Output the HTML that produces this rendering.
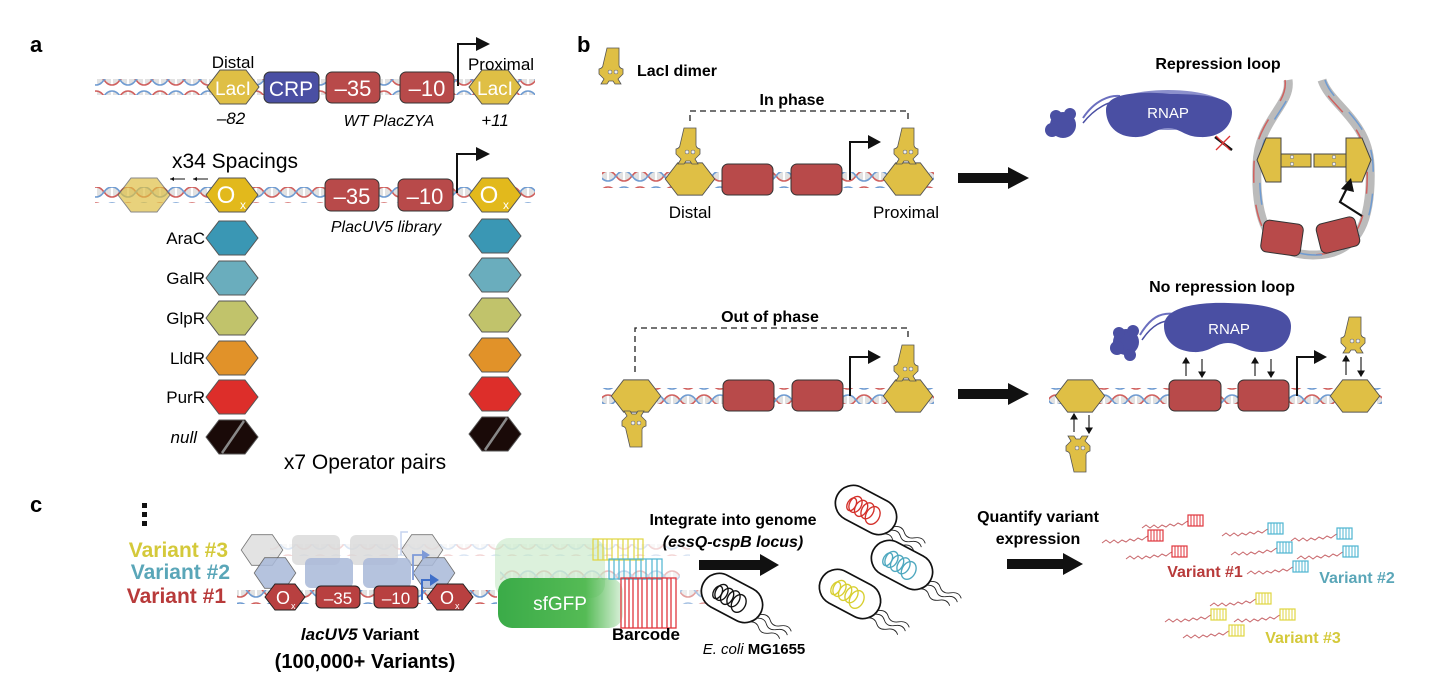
<!DOCTYPE html>
<html><head><meta charset="utf-8"><style>
html,body{margin:0;padding:0;background:#fff}
svg{display:block}
text{font-family:"Liberation Sans",sans-serif}
</style></head><body>
<svg width="1440" height="687" viewBox="0 0 1440 687" xmlns="http://www.w3.org/2000/svg">
<defs>
<pattern id="dna" width="32" height="16" y="-8" patternUnits="userSpaceOnUse">
<g stroke="#aaa" stroke-width="0.7"><line x1="2" y1="4" x2="2" y2="12"/><line x1="4" y1="4" x2="4" y2="12"/><line x1="6" y1="5" x2="6" y2="11"/><line x1="10" y1="5" x2="10" y2="11"/><line x1="12" y1="4" x2="12" y2="12"/><line x1="14" y1="4" x2="14" y2="12"/><line x1="18" y1="4" x2="18" y2="12"/><line x1="20" y1="4" x2="20" y2="12"/><line x1="22" y1="5" x2="22" y2="11"/><line x1="26" y1="5" x2="26" y2="11"/><line x1="28" y1="4" x2="28" y2="12"/><line x1="30" y1="4" x2="30" y2="12"/></g>
<path d="M0,3 C8,3 8,13 16,13 C24,13 24,3 32,3" fill="none" stroke="#d0605e" stroke-width="1.6"/>
<path d="M0,13 C8,13 8,3 16,3 C24,3 24,13 32,13" fill="none" stroke="#6f9bd1" stroke-width="1.6"/>
</pattern>
<polygon id="hx" points="-26,0 -13,-17 13,-17 26,0 13,17 -13,17" stroke="#555" stroke-width="1"/>
<g id="dm"><path d="M-6,-35 h12 v17 q0,3 4,4 v5 l-5,5 l3,5 h-6 l-2,-3 h-4 l-2,3 h-6 l3,-5 l-5,-5 v-5 q4,-1 4,-4 z" fill="#dfbf45" stroke="#555" stroke-width="0.8"/><circle cx="-3" cy="-11" r="2" fill="#eee" stroke="#555" stroke-width=".5"/><circle cx="3" cy="-11" r="2" fill="#eee" stroke="#555" stroke-width=".5"/></g>
<g id="tr"><polyline points="-46,9 -42,6 -38,9 -34,6 -30,9 -26,6 -22,8 -18,5 -14,7 -10,4 -6,6 -2,3 0,2" fill="none" stroke="#c8666a" stroke-width="1"/><rect x="0" y="-4" width="15" height="11" fill="none" stroke="currentColor" stroke-width="1.2"/><path d="M3,-4v11M6,-4v11M9,-4v11M12,-4v11" stroke="currentColor" stroke-width="1"/></g>
<g id="cell"><rect x="-38" y="-21" width="76" height="42" rx="21" fill="#fff" stroke="#111" stroke-width="2"/>
<g fill="none" stroke="currentColor" stroke-width="1.6"><ellipse cx="-14" cy="0" rx="7" ry="10"/><ellipse cx="-6" cy="1" rx="7" ry="10"/><ellipse cx="2" cy="0" rx="7" ry="10"/><ellipse cx="10" cy="2" rx="8" ry="11"/><ellipse cx="-18" cy="2" rx="5" ry="8"/></g>
<g fill="none" stroke="#222" stroke-width="1"><path d="M36,8 q8,-6 14,0 t14,0 t14,0"/><path d="M30,16 q8,-6 14,0 t14,0 t14,0"/><path d="M38,2 q8,-6 14,0 t14,0 t14,0"/></g></g>
<linearGradient id="gfp" x1="0" x2="1"><stop offset="0" stop-color="#3aab48"/><stop offset=".7" stop-color="#55bb55"/><stop offset="1" stop-color="#55bb55" stop-opacity=".2"/></linearGradient>
</defs>

<!-- ===== PANEL A ===== -->
<text x="30" y="52" font-size="22" font-weight="bold">a</text>
<rect x="95" y="79" width="440" height="16" fill="url(#dna)"/>
<use href="#hx" x="233" y="87" fill="#dfbf45"/>
<text x="233" y="95" font-size="19" fill="#fff" text-anchor="middle">LacI</text>
<rect x="264" y="72" width="55" height="31" rx="6" fill="#4a4fa3" stroke="#333"/>
<text x="291" y="96" font-size="21" fill="#fff" text-anchor="middle">CRP</text>
<rect x="326" y="72" width="54" height="31" rx="6" fill="#b84a4a" stroke="#333"/>
<text x="353" y="96" font-size="22" fill="#fff" text-anchor="middle">–35</text>
<rect x="400" y="72" width="54" height="31" rx="6" fill="#b84a4a" stroke="#333"/>
<text x="427" y="96" font-size="22" fill="#fff" text-anchor="middle">–10</text>
<use href="#hx" x="495" y="87" fill="#dfbf45"/>
<text x="495" y="95" font-size="19" fill="#fff" text-anchor="middle">LacI</text>
<path d="M458,86 V44 H476" fill="none" stroke="#111" stroke-width="2"/><polygon points="476,37 490,44 476,51" fill="#111"/>
<text x="233" y="68" font-size="17" text-anchor="middle">Distal</text>
<text x="501" y="70" font-size="17" text-anchor="middle">Proximal</text>
<text x="231" y="124" font-size="17" font-style="italic" text-anchor="middle">–82</text>
<text x="389" y="126" font-size="16" font-style="italic" text-anchor="middle">WT PlacZYA</text>
<text x="495" y="126" font-size="17" font-style="italic" text-anchor="middle">+11</text>

<text x="235" y="168" font-size="21" text-anchor="middle">x34 Spacings</text>
<rect x="95" y="187" width="440" height="16" fill="url(#dna)"/>
<use href="#hx" x="144" y="195" fill="#dfbf45" opacity=".7"/>
<path d="M185,179 H170 M208,179 H193" stroke="#111" stroke-width="1"/><path d="M170,179 l4,-2 v4z M193,179 l4,-2 v4z" fill="#111"/>
<use href="#hx" x="232" y="195" fill="#e2b91c"/>
<text x="226" y="203" font-size="24" fill="#fff" text-anchor="middle">O</text><text x="240" y="209" font-size="12" fill="#fff">x</text>
<rect x="325" y="179" width="54" height="32" rx="6" fill="#b84a4a" stroke="#333"/>
<text x="352" y="204" font-size="22" fill="#fff" text-anchor="middle">–35</text>
<rect x="398" y="179" width="55" height="32" rx="6" fill="#b84a4a" stroke="#333"/>
<text x="425" y="204" font-size="22" fill="#fff" text-anchor="middle">–10</text>
<use href="#hx" x="495" y="195" fill="#e2b91c"/>
<text x="489" y="203" font-size="24" fill="#fff" text-anchor="middle">O</text><text x="503" y="209" font-size="12" fill="#fff">x</text>
<path d="M457,193 V154 H476" fill="none" stroke="#111" stroke-width="2"/><polygon points="476,147 490,154 476,161" fill="#111"/>
<text x="386" y="232" font-size="16" font-style="italic" text-anchor="middle">PlacUV5 library</text>

<g font-size="17" text-anchor="end">
<use href="#hx" x="232" y="238" fill="#3a97b4"/><use href="#hx" x="495" y="236" fill="#3a97b4"/><text x="205" y="244">AraC</text>
<use href="#hx" x="232" y="278" fill="#6aadbd"/><use href="#hx" x="495" y="275" fill="#6aadbd"/><text x="205" y="284">GalR</text>
<use href="#hx" x="232" y="318" fill="#c1c36b"/><use href="#hx" x="495" y="315" fill="#c1c36b"/><text x="205" y="324">GlpR</text>
<use href="#hx" x="232" y="358" fill="#e19229"/><use href="#hx" x="495" y="355" fill="#e19229"/><text x="205" y="364">LldR</text>
<use href="#hx" x="232" y="397" fill="#dd2e2a"/><use href="#hx" x="495" y="394" fill="#dd2e2a"/><text x="205" y="403">PurR</text>
<use href="#hx" x="232" y="437" fill="#1a0a08"/><use href="#hx" x="495" y="434" fill="#1a0a08"/><text x="197" y="443" font-style="italic">null</text>
</g>
<path d="M222,453 L244,421 M485,450 L507,418" stroke="#888" stroke-width="2.5"/>
<text x="365" y="469" font-size="21" text-anchor="middle">x7 Operator pairs</text>

<!-- ===== PANEL B ===== -->
<text x="577" y="52" font-size="22" font-weight="bold">b</text>
<use href="#dm" transform="translate(613,83)"/>
<text x="637" y="76" font-size="16" font-weight="bold">LacI dimer</text>
<text x="792" y="105" font-size="16" font-weight="bold" text-anchor="middle">In phase</text>
<path d="M690,121 V111 H908 V121" fill="none" stroke="#222" stroke-width="1.3" stroke-dasharray="6,4"/>
<rect x="602" y="172" width="332" height="16" fill="url(#dna)"/>
<use href="#hx" transform="translate(690,179) scale(.95,.95)" fill="#dfbf45"/>
<use href="#dm" x="690" y="163"/>
<rect x="722" y="164" width="51" height="31" rx="6" fill="#b84a4a" stroke="#333"/>
<rect x="791" y="164" width="51" height="31" rx="6" fill="#b84a4a" stroke="#333"/>
<path d="M850,180 V142 H868" fill="none" stroke="#111" stroke-width="2"/><polygon points="868,135 881,142 868,149" fill="#111"/>
<use href="#hx" transform="translate(908,179) scale(.95,.95)" fill="#dfbf45"/>
<use href="#dm" x="908" y="163"/>
<text x="690" y="218" font-size="17" text-anchor="middle">Distal</text>
<text x="906" y="218" font-size="17" text-anchor="middle">Proximal</text>
<path d="M958,173 H1008 V167 L1029,178 L1008,189 V183 H958 Z" fill="#111"/>

<text x="1218" y="69" font-size="16" font-weight="bold" text-anchor="middle">Repression loop</text>
<path d="M1083,118 C1095,100 1110,95 1120,96" fill="none" stroke="#6b6fbf" stroke-width="2"/>
<path d="M1083,123 C1095,108 1110,100 1120,102" fill="none" stroke="#4a4fa3" stroke-width="1.5"/>
<ellipse cx="1168" cy="110" rx="62" ry="20" fill="#8c90cc"/>
<path d="M1106,110 C1106,90 1150,92 1170,94 C1210,94 1232,98 1232,112 C1232,128 1218,138 1200,137 C1185,137 1180,128 1168,128 C1155,128 1150,138 1133,137 C1115,136 1106,124 1106,110 Z" fill="#4a4fa3"/>
<text x="1168" y="118" font-size="15" fill="#fff" text-anchor="middle">RNAP</text>
<circle cx="1063" cy="125" r="13" fill="#4a4fa3"/><circle cx="1056" cy="116" r="6" fill="#4a4fa3"/><circle cx="1070" cy="114" r="6" fill="#4a4fa3"/><circle cx="1052" cy="130" r="7" fill="#4a4fa3"/>
<path d="M1215,137 L1232,150" stroke="#111" stroke-width="2.5"/><path d="M1216,150 L1230,136 M1216,136 L1230,150" stroke="#d33" stroke-width="1.3"/>
<path d="M1288,80 C1292,105 1258,120 1257,165 C1255,215 1265,255 1313,255 C1362,255 1372,215 1370,165 C1368,120 1330,105 1322,80" fill="none" stroke="#bbb" stroke-width="9"/>
<path d="M1288,80 C1292,105 1258,120 1257,165 C1255,215 1265,255 1313,255 C1362,255 1372,215 1370,165 C1368,120 1330,105 1322,80" fill="none" stroke="#d0605e" stroke-width="1.5" stroke-dasharray="22,22" transform="translate(-3,0)"/>
<path d="M1288,80 C1292,105 1258,120 1257,165 C1255,215 1265,255 1313,255 C1362,255 1372,215 1370,165 C1368,120 1330,105 1322,80" fill="none" stroke="#6f9bd1" stroke-width="1.5" stroke-dasharray="22,22" stroke-dashoffset="22" transform="translate(3,0)"/>
<polygon points="1257,160 1266,138 1281,138 1281,182 1266,182" fill="#dfbf45" stroke="#444"/>
<polygon points="1371,160 1362,138 1346,138 1346,182 1362,182" fill="#dfbf45" stroke="#444"/>
<rect x="1281" y="154" width="30" height="13" fill="#dfbf45" stroke="#444"/><rect x="1314" y="154" width="32" height="13" fill="#dfbf45" stroke="#444"/>
<circle cx="1292" cy="157" r="1.8" fill="#eee" stroke="#555" stroke-width=".5"/><circle cx="1292" cy="164" r="1.8" fill="#eee" stroke="#555" stroke-width=".5"/><circle cx="1334" cy="157" r="1.8" fill="#eee" stroke="#555" stroke-width=".5"/><circle cx="1334" cy="164" r="1.8" fill="#eee" stroke="#555" stroke-width=".5"/>
<rect x="1262" y="222" width="40" height="32" rx="6" fill="#b84a4a" stroke="#333" transform="rotate(8 1282 238)"/>
<rect x="1318" y="220" width="40" height="30" rx="6" fill="#b84a4a" stroke="#333" transform="rotate(-14 1338 235)"/>
<path d="M1362,216 L1340,202 L1347,188" fill="none" stroke="#111" stroke-width="2.2"/><polygon points="1341,189 1351,178 1354,192" fill="#111"/>

<text x="770" y="322" font-size="16" font-weight="bold" text-anchor="middle">Out of phase</text>
<path d="M635,372 V328 H908 V338" fill="none" stroke="#222" stroke-width="1.3" stroke-dasharray="6,4"/>
<rect x="602" y="388" width="332" height="16" fill="url(#dna)"/>
<use href="#hx" transform="translate(636,396) scale(.95,.95)" fill="#dfbf45"/>
<use href="#dm" transform="translate(636,412) scale(1,-1)"/>
<rect x="723" y="380" width="51" height="31" rx="6" fill="#b84a4a" stroke="#333"/>
<rect x="792" y="380" width="51" height="31" rx="6" fill="#b84a4a" stroke="#333"/>
<path d="M850,396 V357 H868" fill="none" stroke="#111" stroke-width="2"/><polygon points="868,350 881,357 868,364" fill="#111"/>
<use href="#hx" transform="translate(908,396) scale(.95,.95)" fill="#dfbf45"/>
<use href="#dm" x="908" y="380"/>
<path d="M958,389 H1008 V383 L1029,394 L1008,405 V399 H958 Z" fill="#111"/>

<text x="1222" y="292" font-size="16" font-weight="bold" text-anchor="middle">No repression loop</text>
<path d="M1140,335 C1150,318 1160,312 1175,314" fill="none" stroke="#6b6fbf" stroke-width="2"/>
<path d="M1142,340 C1152,325 1162,320 1175,320" fill="none" stroke="#4a4fa3" stroke-width="1.5"/>
<path d="M1164,326 C1164,305 1205,302 1228,303 C1270,304 1291,310 1291,326 C1291,342 1280,352 1262,352 C1245,352 1240,343 1228,343 C1215,343 1210,353 1193,352 C1175,351 1164,340 1164,326 Z" fill="#4a4fa3"/>
<text x="1229" y="334" font-size="15" fill="#fff" text-anchor="middle">RNAP</text>
<circle cx="1126" cy="342" r="13" fill="#4a4fa3"/><circle cx="1119" cy="333" r="6" fill="#4a4fa3"/><circle cx="1133" cy="331" r="6" fill="#4a4fa3"/><circle cx="1117" cy="348" r="7" fill="#4a4fa3"/><circle cx="1130" cy="355" r="6" fill="#4a4fa3"/>
<rect x="1049" y="388" width="333" height="16" fill="url(#dna)"/>
<use href="#hx" transform="translate(1080,396) scale(.95,.95)" fill="#dfbf45"/>
<use href="#dm" transform="translate(1080,437) scale(1,-1)"/>
<rect x="1169" y="380" width="52" height="31" rx="6" fill="#b84a4a" stroke="#333"/>
<rect x="1238" y="380" width="51" height="31" rx="6" fill="#b84a4a" stroke="#333"/>
<path d="M1297,396 V357 H1314" fill="none" stroke="#111" stroke-width="2"/><polygon points="1314,350 1327,357 1314,364" fill="#111"/>
<use href="#hx" transform="translate(1355,396) scale(.95,.95)" fill="#dfbf45"/>
<use href="#dm" x="1355" y="352"/>
<g stroke="#111" stroke-width="1.1" fill="#111">
<path d="M1074,432 V416 M1089,415 V431"/><path d="M1071,419 l3,-5 3,5z M1086,428 l3,5 3,-5z"/>
<path d="M1186,376 V360 M1202,359 V375"/><path d="M1183,363 l3,-5 3,5z M1199,372 l3,5 3,-5z"/>
<path d="M1255,376 V360 M1271,359 V375"/><path d="M1252,363 l3,-5 3,5z M1268,372 l3,5 3,-5z"/>
<path d="M1346,375 V358 M1361,357 V374"/><path d="M1343,361 l3,-5 3,5z M1358,371 l3,5 3,-5z"/>
</g>

<!-- ===== PANEL C ===== -->
<text x="30" y="512" font-size="22" font-weight="bold">c</text>
<rect x="142" y="503" width="5" height="5" fill="#111"/><rect x="142" y="512" width="5" height="5" fill="#111"/><rect x="142" y="521" width="5" height="5" fill="#111"/>
<g font-size="21" font-weight="bold" text-anchor="end">
<text x="228" y="557" fill="#d4c93a">Variant #3</text>
<text x="230" y="579" fill="#5aa6b8">Variant #2</text>
<text x="226" y="603" fill="#b83a3a">Variant #1</text>
</g>
<rect x="270" y="544" width="420" height="12" fill="url(#dna)" opacity=".25"/>
<rect x="500" y="566" width="180" height="14" fill="url(#dna)" opacity=".4"/>
<rect x="680" y="590" width="30" height="14" fill="url(#dna)" opacity=".6"/>
<rect x="495" y="538" width="110" height="60" rx="14" fill="#bfe6c0" opacity=".55"/>
<g fill="#d9d9d9" opacity=".8">
<use href="#hx" transform="translate(262,550) scale(.8,.9)" fill="#ddd"/>
<rect x="292" y="535" width="48" height="30" rx="6"/><rect x="350" y="535" width="48" height="30" rx="6"/>
<use href="#hx" transform="translate(422,550) scale(.8,.9)" fill="#ddd"/>
</g>
<path d="M401,555 V532 H408" stroke="#c5d3ef" stroke-width="1.5" fill="none"/>
<g opacity=".85">
<use href="#hx" transform="translate(275,573) scale(.8,.9)" fill="#a9b9d9"/>
<rect x="305" y="558" width="48" height="30" rx="6" fill="#a9b9d9"/><rect x="363" y="558" width="48" height="30" rx="6" fill="#a9b9d9"/>
<use href="#hx" transform="translate(434,573) scale(.8,.9)" fill="#a9b9d9"/>
</g>
<path d="M413,580 V555 H422" stroke="#7e9ad8" stroke-width="1.8" fill="none"/><polygon points="422,550 430,555 422,560" fill="#7e9ad8"/>
<rect x="237" y="590" width="260" height="14" fill="url(#dna)"/>
<path d="M422,600 V580 H430" stroke="#3f6fc9" stroke-width="2" fill="none"/><polygon points="430,574 439,580 430,586" fill="#3f6fc9"/>
<polygon points="265,597 275,584 295,584 305,597 295,610 275,610" fill="#b84040" stroke="#222"/>
<text x="283" y="604" font-size="18" fill="#fff" text-anchor="middle">O</text><text x="291" y="609" font-size="9" fill="#fff">x</text>
<rect x="316" y="586" width="44" height="22" rx="5" fill="#b84040" stroke="#222"/><text x="338" y="604" font-size="17" fill="#fff" text-anchor="middle">–35</text>
<rect x="374" y="586" width="44" height="22" rx="5" fill="#b84040" stroke="#222"/><text x="396" y="604" font-size="17" fill="#fff" text-anchor="middle">–10</text>
<polygon points="427,597 437,584 463,584 473,597 463,610 437,610" fill="#b84040" stroke="#222"/>
<text x="447" y="604" font-size="18" fill="#fff" text-anchor="middle">O</text><text x="455" y="609" font-size="9" fill="#fff">x</text>
<rect x="498" y="578" width="125" height="50" rx="14" fill="url(#gfp)"/>
<text x="560" y="610" font-size="19" fill="#fff" text-anchor="middle">sfGFP</text>
<g fill="none" stroke="#dfd540" stroke-width="1.2"><rect x="593" y="539" width="50" height="21"/><path d="M598,539v21M603,539v21M607,539v21M612,539v21M618,539v21M623,539v21M628,539v21M634,539v21M638,539v21"/></g>
<g fill="none" stroke="#4eb5d0" stroke-width="1.2"><rect x="609" y="559" width="53" height="20"/><path d="M614,559v20M619,559v20M624,559v20M630,559v20M636,559v20M641,559v20M646,559v20M652,559v20M657,559v20"/></g>
<g fill="none" stroke="#e0363d" stroke-width="1.3"><rect x="621" y="578" width="55" height="50"/><path d="M625,578v50M629,578v50M633,578v50M638,578v50M642,578v50M647,578v50M652,578v50M657,578v50M662,578v50M667,578v50M671,578v50"/></g>
<text x="646" y="640" font-size="17" font-weight="bold" text-anchor="middle">Barcode</text>
<text x="360" y="640" font-size="17" text-anchor="middle"><tspan font-style="italic" font-weight="bold">lacUV5</tspan> <tspan font-weight="bold">Variant</tspan></text>
<text x="365" y="668" font-size="20" font-weight="bold" text-anchor="middle">(100,000+ Variants)</text>

<text x="733" y="525" font-size="16" font-weight="bold" text-anchor="middle">Integrate into genome</text>
<text x="733" y="547" font-size="16" font-weight="bold" font-style="italic" text-anchor="middle">(essQ-cspB locus)</text>
<path d="M699,560 H760 V554 L779,565 L760,576 V570 H699 Z" fill="#111"/>
<use href="#cell" transform="translate(732,598) rotate(28) scale(.85)" color="#111"/>
<text x="754" y="654" font-size="15" text-anchor="middle"><tspan font-style="italic">E. coli</tspan> <tspan font-weight="bold">MG1655</tspan></text>
<use href="#cell" transform="translate(866,510) rotate(28) scale(.85)" color="#d4302a"/>
<use href="#cell" transform="translate(902,565) rotate(28) scale(.85)" color="#4ea8bf"/>
<use href="#cell" transform="translate(850,594) rotate(28) scale(.85)" color="#d8cf30"/>

<text x="1038" y="522" font-size="16" font-weight="bold" text-anchor="middle">Quantify variant</text>
<text x="1038" y="544" font-size="16" font-weight="bold" text-anchor="middle">expression</text>
<path d="M1007,559 H1063 V553 L1083,564 L1063,575 V569 H1007 Z" fill="#111"/>

<use href="#tr" x="1188" y="519" color="#e0363d"/>
<use href="#tr" x="1148" y="534" color="#e0363d"/>
<use href="#tr" x="1172" y="550" color="#e0363d"/>
<use href="#tr" x="1268" y="527" color="#4eb5d0"/>
<use href="#tr" x="1337" y="532" color="#4eb5d0"/>
<use href="#tr" x="1277" y="546" color="#4eb5d0"/>
<use href="#tr" x="1343" y="550" color="#4eb5d0"/>
<use href="#tr" x="1293" y="565" color="#4eb5d0"/>
<use href="#tr" x="1256" y="597" color="#dfd540"/>
<use href="#tr" x="1211" y="613" color="#dfd540"/>
<use href="#tr" x="1280" y="613" color="#dfd540"/>
<use href="#tr" x="1229" y="629" color="#dfd540"/>
<g font-size="16" font-weight="bold" text-anchor="middle">
<text x="1205" y="577" fill="#b83a3a">Variant #1</text>
<text x="1357" y="583" fill="#5aa6b8">Variant #2</text>
<text x="1303" y="643" fill="#d4c93a">Variant #3</text>
</g>
</svg>
</body></html>
